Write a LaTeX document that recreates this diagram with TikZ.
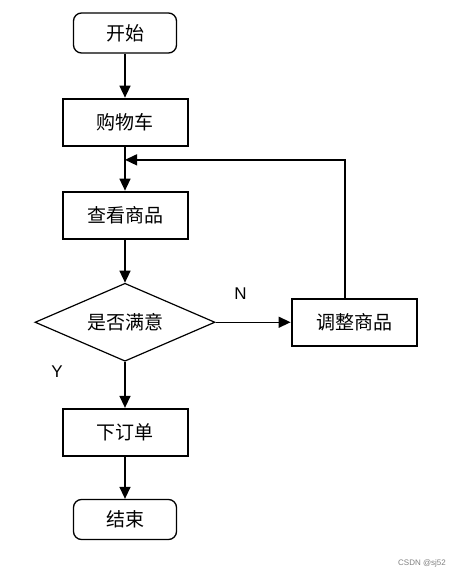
\documentclass[tikz,border=0pt]{standalone}
\usepackage{fontspec}
\setmainfont{Liberation Sans}
\newfontfamily\cjk{Noto Sans CJK SC}
\usepackage{tikz}
\usetikzlibrary{shapes.geometric, positioning, arrows.meta, calc}
\tikzset{
x=1pt, y=1pt,
node distance=44pt, % gap between two boxes of the chain
every node/.style={font=\cjk\fontsize{19}{22}\selectfont},
startstop/.style={draw, line width=1.3pt, rounded corners=8pt, minimum width=103pt, minimum height=40pt}, % begin and end
stepbox/.style={draw, line width=2pt, minimum width=125pt, minimum height=47pt}, % one step
decision/.style={draw, line width=1.2pt, diamond, aspect=2.3, inner sep=0pt, minimum width=180pt, minimum height=78pt},
arrow/.style={line width=1.4pt, -{Triangle[length=12pt, width=11pt]}},
yn/.style={font=\fontsize{17}{19}\selectfont},
}

\begin{document}
\begin{tikzpicture}
        \useasboundingbox (0,0) rectangle (465,-579);
        % main chain
        \node[startstop] (start) at (125,-33) {开始};
        \node[stepbox, below=of start] (cart) {购物车};
        \node[stepbox, below=of cart] (view) {查看商品};
        \node[decision, below=43pt of view] (dia) {是否满意};
        \node[stepbox, below=46pt of dia] (order) {下订单};
        \node[startstop, below=42pt of order] (end) {结束};
        % side step
        \node[stepbox, right=75pt of dia] (adjust) {调整商品};
        \coordinate (back) at ($(cart.south)!0.3!(view.north)$);
        % connectors
        \draw[arrow] (start) -- (cart);
        \draw[arrow] (cart) -- (view);
        \draw[arrow] (view) -- (dia);
        \draw[arrow] (dia) -- (order);
        \draw[arrow] (order) -- (end);
        \draw[arrow] (dia) -- (adjust);
        \draw[arrow] ([xshift=-9pt]adjust.north) |- (back);
        % labels
        \node[yn] (no) at ([xshift=25pt, yshift=29pt]dia.east) {N};
        \node[yn] (yes) at ([xshift=-68pt, yshift=-10pt]dia.south) {Y};
        \node[font=\fontsize{8}{10}\selectfont, text=gray] (mark) at (422,-563) {CSDN @sj52};
    \end{tikzpicture}
\end{document}
